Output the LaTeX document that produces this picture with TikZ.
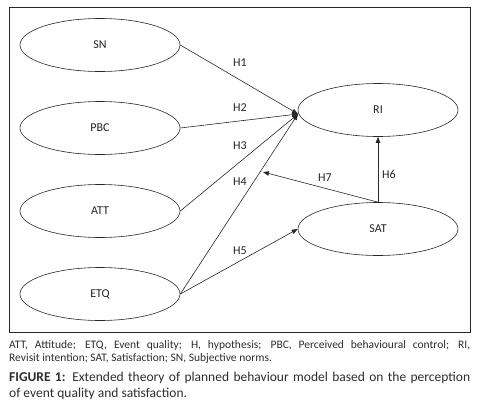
\documentclass[tikz,border=0pt]{standalone}
\usepackage{fontspec}
\setmainfont{Carlito}
\usepackage{xcolor}
\usepackage{tikz}
\usetikzlibrary{shapes.geometric,arrows.meta}
\definecolor{linegray}{RGB}{40, 40, 40}
\definecolor{textgray}{RGB}{35, 35, 35}
\definecolor{captiongray}{RGB}{45, 45, 45}

\begin{document}
\begin{tikzpicture}[x=1pt, y=-1pt,
    construct/.style={ellipse, draw=linegray, line width=0.6pt, minimum width=160pt,
      minimum height=53pt, inner sep=0pt, text=textgray, font=\fontsize{12}{14}\selectfont},
    path/.style={-{Triangle[length=6pt, width=4.5pt]}, draw=linegray, line width=0.6pt},
    hyp/.style={text=textgray, font=\fontsize{12}{14}\selectfont},
    note/.style={anchor=north west, inner sep=0pt, text width=461pt, align=justify,
      text=captiongray, execute at begin node={\hyphenpenalty=10000\exhyphenpenalty=10000}}]
        \useasboundingbox (0,0) rectangle (482,418);
        % frame
        \draw[linegray, line width=0.8pt] (9,7) rectangle (470,332);
        % left constructs
        \node[construct] (sn) at (100,45) {SN};
        \node[construct] (pbc) at (100,128) {PBC};
        \node[construct] (att) at (100,211) {ATT};
        \node[construct] (etq) at (100,294) {ETQ};
        % right constructs
        \node[construct] (ri) at (378,110) {RI};
        \node[construct] (sat) at (378,229) {SAT};
        \coordinate (meet) at (298,114);
        \coordinate (onh4) at (263,172);
        % paths to RI
        \draw[path] (sn.east) -- (meet);
        \draw[path] (pbc.east) -- (meet);
        \draw[path] (att.east) -- (meet);
        \draw[path] (etq.east) -- (meet);
        \draw[path] (etq.east) -- (sat.west);
        \draw[path] (sat.north) -- (ri.south);
        \draw[path] (sat.north) -- (onh4);
        % hypothesis labels
        \node[hyp] (h1) at (240,63) {H1};
        \node[hyp] (h2) at (240,108) {H2};
        \node[hyp] (h3) at (240,146) {H3};
        \node[hyp] (h4) at (240,182) {H4};
        \node[hyp] (h5) at (240,251) {H5};
        \node[hyp] (h6) at (389,174) {H6};
        \node[hyp] (h7) at (325,178) {H7};
        % legend and caption
        \node[note, font=\fontsize{11.5}{13.3}\selectfont] (legend) at (9,340)
          {ATT, Attitude; ETQ, Event quality; H, hypothesis; PBC, Perceived behavioural control; RI,\linebreak Revisit intention; SAT, Satisfaction; SN, Subjective norms.};
        \node[note, font=\fontsize{13.5}{15.5}\selectfont] (caption) at (9,372)
          {\textbf{FIGURE 1:} Extended theory of planned behaviour model based on the perception\linebreak of event quality and satisfaction.};
      \end{tikzpicture}
\end{document}
